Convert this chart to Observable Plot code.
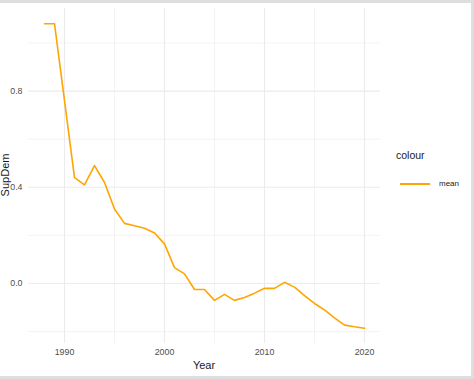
<!DOCTYPE html>
<html><head><meta charset="utf-8">
<script src="https://cdn.jsdelivr.net/npm/d3@7"></script>
<script src="https://cdn.jsdelivr.net/npm/@observablehq/plot@0.6"></script>
<style>
body{margin:0;background:#fff;font-family:"Liberation Sans",Arial,sans-serif;}
#wrap{position:relative;width:474px;height:379px;overflow:hidden;background:#fff;}
#wrap svg{position:absolute;left:0;top:0;}
.frameT{position:absolute;left:0;top:0;width:474px;height:3px;background:#dedede;}
.frameR{position:absolute;left:471px;top:0;width:3px;height:379px;background:#dedede;}
.frameB{position:absolute;left:0;top:376px;width:474px;height:3px;background:#dedede;}
.lgTitle{position:absolute;left:396px;top:149px;font-size:10.5px;color:#1a1a1a;}
.lgLine{position:absolute;left:400px;top:183px;width:30px;height:1.6px;background:#FFA500;}
.lgText{position:absolute;left:439px;top:179px;font-size:8px;color:#1a1a1a;}
</style></head><body>
<div id="wrap"></div>
<script>
const years = [1988,1989,1990,1991,1992,1993,1994,1995,1996,1997,1998,1999,2000,2001,2002,2003,2004,2005,2006,2007,2008,2009,2010,2011,2012,2013,2014,2015,2016,2017,2018,2019,2020];
const supdem = [1.08,1.08,0.76,0.44,0.41,0.49,0.42,0.31,0.25,0.24,0.23,0.21,0.165,0.066,0.04,-0.025,-0.025,-0.07,-0.045,-0.07,-0.058,-0.04,-0.02,-0.02,0.005,-0.015,-0.05,-0.083,-0.11,-0.143,-0.173,-0.18,-0.186];
const seriesName = "mean";
const legendTitle = "colour";
const xLabel = "Year";
const yLabel = "SupDem";
const xTicks = [1990,2000,2010,2020];
const xMinor = [1995,2005,2015];
const yTicks = [0,0.4,0.8];
const yMinor = [-0.2,0.2,0.6,1.0];

const data = years.map((y,i)=>({year:y, value:supdem[i], series:seriesName}));
const xr = [d3.min(years), d3.max(years)], xe = (xr[1]-xr[0])*0.05;
const yr = [d3.min(supdem), d3.max(supdem)], ye = (yr[1]-yr[0])*0.05;
const grid = "#ebebeb";
const plot = Plot.plot({
  width:474, height:379,
  marginLeft:28, marginRight:94, marginTop:8, marginBottom:36,
  style:{fontFamily:"Liberation Sans, Arial, sans-serif", background:"transparent"},
  x:{domain:[xr[0]-xe, xr[1]+xe]},
  y:{domain:[yr[0]-ye, yr[1]+ye]},
  marks:[
    Plot.gridX(xMinor,{stroke:grid, strokeOpacity:1, strokeWidth:0.6}),
    Plot.gridY(yMinor,{stroke:grid, strokeOpacity:1, strokeWidth:0.6}),
    Plot.gridX(xTicks,{stroke:grid, strokeOpacity:1, strokeWidth:1.1}),
    Plot.gridY(yTicks,{stroke:grid, strokeOpacity:1, strokeWidth:1.1}),
    Plot.axisX(xTicks,{tickSize:0, tickPadding:5, tickFormat:d=>String(d), label:null, fontSize:8.8, color:"#4d4d4d"}),
    Plot.axisY(yTicks,{tickSize:0, tickPadding:6, tickFormat:d=>d.toFixed(1), label:null, fontSize:8.8, color:"#4d4d4d"}),
    Plot.line(data,{x:"year", y:"value", stroke:"#FFA500", strokeWidth:1.6})
  ]
});
const wrap = document.getElementById("wrap");
wrap.appendChild(plot);
const svg = d3.select(plot);
svg.append("text").attr("x",204).attr("y",369).attr("text-anchor","middle")
  .attr("font-size",11).attr("fill","#1a1a1a").text(xLabel);
svg.append("text").attr("transform","translate(9,175) rotate(-90)").attr("text-anchor","middle")
  .attr("font-size",11).attr("fill","#1a1a1a").text(yLabel);
wrap.insertAdjacentHTML("beforeend",
  `<div class="lgTitle">${legendTitle}</div><div class="lgLine"></div><div class="lgText">${seriesName}</div>
   <div class="frameT"></div><div class="frameR"></div><div class="frameB"></div>`);
</script>
</body></html>
